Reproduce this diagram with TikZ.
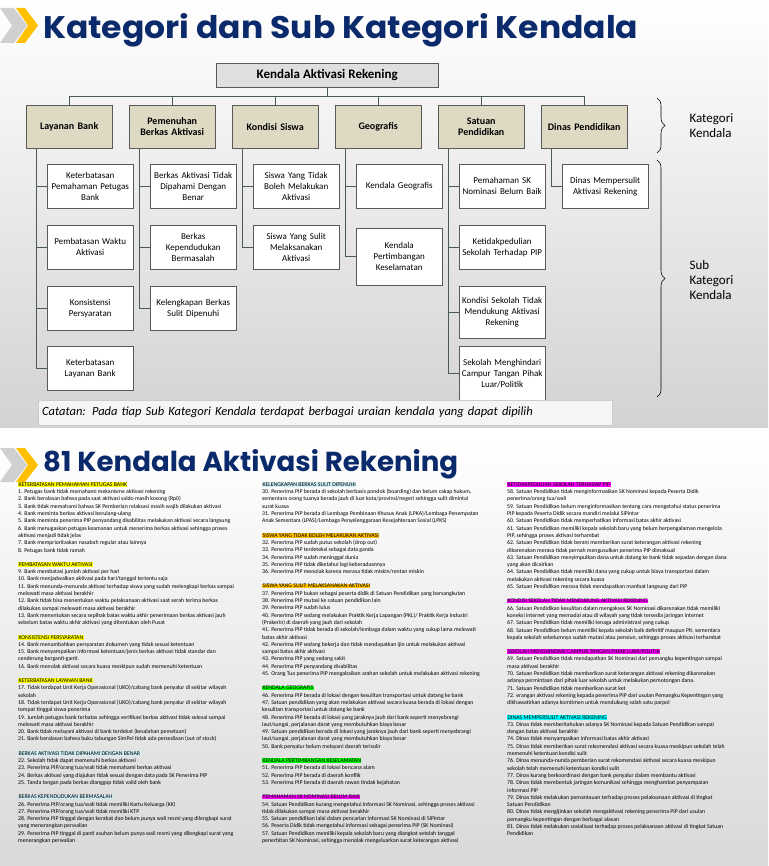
\documentclass[tikz,border=0pt]{standalone}
\usepackage{fontspec}
\setmainfont{Carlito}
\newfontfamily\ttlfont{Poppins}
\usetikzlibrary{decorations.pathreplacing,calc}
\definecolor{navy}{HTML}{0B2A6B}
\definecolor{beige}{HTML}{DDD9C3}
\definecolor{lnc}{HTML}{4A5A5A}
\definecolor{hy}{HTML}{FFFF00}
\definecolor{hc}{HTML}{CDEFF5}
\definecolor{hg}{HTML}{FFC000}
\definecolor{hgr}{HTML}{00FF00}
\definecolor{hm}{HTML}{FF00FF}
\definecolor{hcy}{HTML}{00FFFF}
\definecolor{chy}{HTML}{FFC000}
\definecolor{chg}{HTML}{D0D0D0}
\newcommand{\hl}[2]{\setlength{\fboxsep}{0.4pt}\colorbox{#1}{#2}}
\begin{document}
\begin{tikzpicture}[x=1pt,y=-1pt,
  catbox/.style={draw=gray!70!black,fill=beige,minimum width=86pt,minimum height=43pt,align=center,font=\fontsize{10}{11}\selectfont\bfseries,inner sep=0pt,anchor=north west,text width=86pt},
  subbox/.style={draw=gray!70!black,fill=white,minimum width=86pt,minimum height=44pt,align=center,font=\fontsize{9}{11}\selectfont,inner sep=0pt,anchor=north west,text width=86pt},
  conn/.style={draw=lnc,line width=0.8pt},
  coltext/.style={anchor=north west,align=left,inner sep=0pt,font=\fontsize{5.8}{7.3}\selectfont},
  brc/.style={draw,line width=0.6pt,decorate,decoration={brace,amplitude=8pt}}]
\hyphenpenalty=10000
\useasboundingbox (0,0) rectangle (768,866);
\shade[top color=white,bottom color=gray!35] (0,0) rectangle (768,428);
\fill[white] (0,428) rectangle (768,440);
\shade[top color=white,bottom color=gray!30] (0,440) rectangle (768,866);
% chevrons
\fill[chg] (0,8)--(14,8)--(27,25.5)--(14,43)--(0,43)--(12,25.5)--cycle;
\fill[chy] (16,8)--(25,8)--(38,25.5)--(25,43)--(16,43)--(28,25.5)--cycle;
\fill[chg] (0,448)--(14,448)--(27,465)--(14,482)--(0,482)--(12,465)--cycle;
\fill[chy] (16,448)--(25,448)--(38,465)--(25,482)--(16,482)--(28,465)--cycle;
\node[anchor=base west,inner sep=0pt,text=navy] (t1) at (43,39) {\resizebox{595pt}{25pt}{\ttlfont\bfseries Kategori dan Sub Kategori Kendala}};
\node[anchor=base west,inner sep=0pt,text=navy] (t2) at (43,471) {\resizebox{415pt}{22pt}{\ttlfont\bfseries 81 Kendala Aktivasi Rekening}};
% root
\node[draw=gray!70!black,fill=gray!25,minimum width=222pt,minimum height=24pt,anchor=north west,font=\fontsize{13}{14}\selectfont\bfseries] (root) at (216,63) {Kendala Aktivasi Rekening};
% categories
\node[catbox] (c1) at (26,105) {Layanan Bank};
\node[catbox] (c2) at (129,105) {Pemenuhan\\Berkas Aktivasi};
\node[catbox] (c3) at (232,105) {Kondisi Siswa};
\node[catbox] (c4) at (335,105) {Geografis};
\node[catbox] (c5) at (438,105) {Satuan\\Pendidikan};
\node[catbox] (c6) at (541,105) {Dinas Pendidikan};
\coordinate (bus) at (0,96);
\draw[conn] (root.south) -- (root.south |- bus);
\draw[conn] (c1.north |- bus) -- (c6.north |- bus);
\foreach \c in {c1,c2,c3,c4,c5,c6} \draw[conn] (\c.north |- bus) -- (\c.north);
% subcategories
\node[subbox] (s11) at (47,164) {Keterbatasan\\Pemahaman Petugas\\Bank};
\node[subbox] (s12) at (47,225) {Pembatasan Waktu\\Aktivasi};
\node[subbox] (s13) at (47,286) {Konsistensi\\Persyaratan};
\node[subbox] (s14) at (47,346) {Keterbatasan\\Layanan Bank};
\node[subbox] (s21) at (150,164) {Berkas Aktivasi Tidak\\Dipahami Dengan\\Benar};
\node[subbox] (s22) at (150,225) {Berkas\\Kependudukan\\Bermasalah};
\node[subbox] (s23) at (150,286) {Kelengkapan Berkas\\Sulit Dipenuhi};
\node[subbox] (s31) at (253,164) {Siswa Yang Tidak\\Boleh Melakukan\\Aktivasi};
\node[subbox] (s32) at (253,225) {Siswa Yang Sulit\\Melaksanakan\\Aktivasi};
\node[subbox] (s41) at (356,164) {Kendala Geografis};
\node[subbox,minimum height=57pt] (s42) at (356,228) {Kendala\\Pertimbangan\\Keselamatan};
\node[subbox] (s51) at (459,164) {Pemahaman SK\\Nominasi Belum Baik};
\node[subbox] (s52) at (459,225) {Ketidakpedulian\\Sekolah Terhadap PIP};
\node[subbox,minimum height=52pt] (s53) at (459,286) {Kondisi Sekolah Tidak\\Mendukung Aktivasi\\Rekening};
\node[subbox,minimum height=54pt] (s54) at (459,346) {Sekolah Menghindari\\Campur Tangan Pihak\\Luar/Politik};
\node[subbox] (s61) at (562,164) {Dinas Mempersulit\\Aktivasi Rekening};
\foreach \c/\s in {c1/s11,c1/s12,c1/s13,c1/s14,c2/s21,c2/s22,c2/s23,c3/s31,c3/s32,c4/s41,c4/s42,c5/s51,c5/s52,c5/s53,c5/s54,c6/s61}
  \draw[conn] ([xshift=10pt]\c.south west) |- (\s.west);
% braces
\coordinate (b1a) at (657,98); \coordinate (b1b) at (657,153);
\coordinate (b2a) at (657,160); \coordinate (b2b) at (657,397);
\draw[brc] (b1a) -- (b1b);
\draw[brc] (b2a) -- (b2b);
\node[anchor=west,align=left,font=\fontsize{13}{15}\selectfont] (k1) at (686,126) {Kategori\\Kendala};
\node[anchor=west,align=left,font=\fontsize{13}{15}\selectfont] (k2) at (686,280) {Sub\\Kategori\\Kendala};
% note
\node[draw=gray!40,fill=gray!8,anchor=north west,minimum width=574pt,minimum height=25pt,text width=566pt,align=left,font=\fontsize{12.5}{15}\selectfont\itshape] (note) at (38,400) {Catatan: Pada tiap Sub Kategori Kendala terdapat berbagai uraian kendala yang dapat dipilih};
% column 1
\node[coltext] (col1) at (18,482) {%
\hl{hy}{KETERBATASAN PEMAHAMAN PETUGAS BANK}\\
1. Petugas bank tidak memahami mekanisme aktivasi rekening\\
2. Bank beralasan bahwa pada saat aktivasi saldo masih kosong (Rp0)\\
3. Bank tidak memahami bahwa SK Pemberian relaksasi masih wajib dilakukan aktivasi\\
4. Bank meminta berkas aktivasi berulang-ulang\\
5. Bank meminta penerima PIP penyandang disabilitas melakukan aktivasi secara langsung\\
6. Bank menugaskan petugas keamanan untuk menerima berkas aktivasi sehingga proses\\
aktivasi menjadi tidak jelas\\
7. Bank memprioritaskan nasabah regular atau lainnya\\
8. Petugas bank tidak ramah\\[7pt]
\hl{hy}{PEMBATASAN WAKTU AKTIVASI}\\
9. Bank membatasi jumlah aktivasi per hari\\
10. Bank menjadwalkan aktivasi pada hari/tanggal tertentu saja\\
11. Bank menunda-menunda aktivasi terhadap siswa yang sudah melengkapi berkas sampai\\
melewati masa aktivasi berakhir\\
12. Bank tidak bisa menentukan waktu pelaksanaan aktivasi saat serah terima berkas\\
dilakukan sampai melewati masa aktivasi berakhir\\
13. Bank menentukan secara sepihak batas waktu akhir penerimaan berkas aktivasi jauh\\
sebelum batas waktu akhir aktivasi yang ditentukan oleh Pusat\\[7pt]
\hl{hy}{KONSISTENSI PERSYARATAN}\\
14. Bank menambahkan persyaratan dokumen yang tidak sesuai ketentuan\\
15. Bank menyampaikan informasi ketentuan/jenis berkas aktivasi tidak standar dan\\
cenderung berganti-ganti.\\
16. Bank menolak aktivasi secara kuasa meskipun sudah memenuhi ketentuan\\[7pt]
\hl{hy}{KETERBATASAN LAYANAN BANK}\\
17. Tidak terdapat Unit Kerja Operasional (UKO)/cabang bank penyalur di sekitar wilayah\\
sekolah\\
18. Tidak terdapat Unit Kerja Operasional (UKO)/cabang bank penyalur di sekitar wilayah\\
tempat tinggal siswa penerima\\
19. Jumlah petugas bank terbatas sehingga verifikasi berkas aktivasi tidak selesai sampai\\
melewati masa aktivasi berakhir\\
20. Bank tidak melayani aktivasi di bank terdekat (kesalahan pemetaan)\\
21. Bank beralasan bahwa buku tabungan SimPel tidak ada persediaan (out of stock)\\[7pt]
\hl{hc}{BERKAS AKTIVASI TIDAK DIPAHAMI DENGAN BENAR}\\
22. Sekolah tidak dapat memenuhi berkas aktivasi\\
23. Penerima PIP/orang tua/wali tidak memahami berkas aktivasi\\
24. Berkas aktivasi yang diajukan tidak sesuai dengan data pada SK Penerima PIP\\
25. Tanda tangan pada berkas dianggap tidak valid oleh bank\\[7pt]
\hl{hc}{BERKAS KEPENDUDUKAN BERMASALAH}\\
26. Penerima PIP/orang tua/wali tidak memiliki Kartu Keluarga (KK)\\
27. Penerima PIP/orang tua/wali tidak memiliki KTP\\
28. Penerima PIP tinggal dengan kerabat dan belum punya wali resmi yang dilengkapi surat\\
yang menerangkan perwalian\\
29. Penerima PIP tinggal di panti asuhan belum punya wali resmi yang dilengkapi surat yang\\
menerangkan perwalian};
% column 2
\node[coltext] (col2) at (262,482) {%
\hl{hc}{KELENGKAPAN BERKAS SULIT DIPENUHI}\\
30. Penerima PIP berada di sekolah berbasis pondok (boarding) dan belum cakap hukum,\\
sementara orang tuanya berada jauh di luar kota/provinsi/negeri sehingga sulit dimintai\\
surat kuasa\\
31. Penerima PIP berada di Lembaga Pembinaan Khusus Anak (LPKA)/Lembaga Penempatan\\
Anak Sementara (LPAS)/Lembaga Penyelenggaraan Kesejahteraan Sosial (LPKS)\\[7pt]
\hl{hg}{SISWA YANG TIDAK BOLEH MELAKUKAN AKTIVASI}\\
32. Penerima PIP sudah putus sekolah (drop out)\\
33. Penerima PIP terdeteksi sebagai data ganda\\
34. Penerima PIP sudah meninggal dunia\\
35. Penerima PIP tidak diketahui lagi keberadaannya\\
36. Penerima PIP menolak karena merasa tidak miskin/rentan miskin\\[7pt]
\hl{hg}{SISWA YANG SULIT MELAKSANAKAN AKTIVASI}\\
37. Penerima PIP bukan sebagai peserta didik di Satuan Pendidikan yang bersangkutan\\
38. Penerima PIP mutasi ke satuan pendidikan lain\\
39. Penerima PIP sudah lulus\\
40. Penerima PIP sedang melakukan Praktik Kerja Lapangan (PKL)/ Praktik Kerja Industri\\
(Prakerin) di daerah yang jauh dari sekolah\\
41. Penerima PIP tidak berada di sekolah/lembaga dalam waktu yang cukup lama melewati\\
batas akhir aktivasi\\
42. Penerima PIP sedang bekerja dan tidak mendapatkan ijin untuk melakukan aktivasi\\
sampai batas akhir aktivasi\\
43. Penerima PIP yang sedang sakit\\
44. Penerima PIP penyandang disabilitas\\
45. Orang Tua penerima PIP mengabaikan arahan sekolah untuk melakukan aktivasi rekening\\[7pt]
\hl{hgr}{KENDALA GEOGRAFIS}\\
46. Penerima PIP berada di lokasi dengan kesulitan transportasi untuk datang ke bank\\
47. Satuan pendidikan yang akan melakukan aktivasi secara kuasa berada di lokasi dengan\\
kesulitan transportasi untuk datang ke bank\\
48. Penerima PIP berada di lokasi yang jaraknya jauh dari bank seperti menyebrangi\\
laut/sungai, perjalanan darat yang membutuhkan biaya besar\\
49. Satuan pendidikan berada di lokasi yang jaraknya jauh dari bank seperti menyebrangi\\
laut/sungai, perjalanan darat yang membutuhkan biaya besar\\
50. Bank penyalur belum melayani daerah terisolir\\[7pt]
\hl{hgr}{KENDALA PERTIMBANGAN KESELAMATAN}\\
51. Penerima PIP berada di lokasi bencana alam\\
52. Penerima PIP berada di daerah konflik\\
53. Penerima PIP berada di daerah rawan tindak kejahatan\\[7pt]
\hl{hm}{PEMAHAMAN SK NOMINASI BELUM BAIK}\\
54. Satuan Pendidikan kurang mengetahui informasi SK Nominasi, sehingga proses aktivasi\\
tidak dilakukan sampai masa aktivasi berakhir\\
55. Satuan pendidikan lalai dalam pencarian informasi SK Nominasi di SiPintar\\
56. Peserta Didik tidak mengetahui informasi sebagai penerima PIP (SK Nominasi)\\
57. Satuan Pendidikan memiliki kepala sekolah baru yang diangkat setelah tanggal\\
penerbitan SK Nominasi, sehingga menolak mengeluarkan surat keterangan aktivasi};
% column 3
\node[coltext] (col3) at (507,482) {%
\hl{hm}{KETIDAKPEDULIAN SEKOLAH TERHADAP PIP}\\
58. Satuan Pendidikan tidak menginformasikan SK Nominasi kepada Peserta Didik\\
penerima/orang tua/wali\\
59. Satuan Pendidikan belum menginformasikan tentang cara mengetahui status penerima\\
PIP kepada Peserta Didik secara mandiri melalui SiPintar\\
60. Satuan Pendidikan tidak memperhatikan informasi batas akhir aktivasi\\
61. Satuan Pendidikan memiliki kepala sekolah baru yang belum berpengalaman mengelola\\
PIP, sehingga proses aktivasi terhambat\\
62. Satuan Pendidikan tidak berani memberikan surat keterangan aktivasi rekening\\
dikarenakan merasa tidak pernah mengusulkan penerima PIP dimaksud\\
63. Satuan Pendidikan menyimpulkan dana untuk datang ke bank tidak sepadan dengan dana\\
yang akan dicairkan\\
64. Satuan Pendidikan tidak memiliki dana yang cukup untuk biaya transportasi dalam\\
melakukan aktivasi rekening secara kuasa\\
65. Satuan Pendidikan merasa tidak mendapatkan manfaat langsung dari PIP\\[7pt]
\hl{hm}{KONDISI SEKOLAH TIDAK MENDUKUNG AKTIVASI REKENING}\\
66. Satuan Pendidikan kesulitan dalam mengakses SK Nominasi dikarenakan tidak memiliki\\
koneksi internet yang memadai atau di wilayah yang tidak tersedia jaringan internet\\
67. Satuan Pendidikan tidak memiliki tenaga administrasi yang cukup\\
68. Satuan Pendidikan belum memiliki kepala sekolah baik definitif maupun Plt, sementara\\
kepala sekolah sebelumnya sudah mutasi atau pensiun, sehingga proses aktivasi terhambat\\[7pt]
\hl{hm}{SEKOLAH MENGHINDARI CAMPUR TANGAN PIHAK LUAR/POLITIK}\\
69. Satuan Pendidikan tidak mendapatkan SK Nominasi dari pemangku kepentingan sampai\\
masa aktivasi berakhir\\
70. Satuan Pendidikan tidak memberikan surat keterangan aktivasi rekening dikarenakan\\
adanya permintaan dari pihak luar sekolah untuk melakukan pemotongan dana.\\
71. Satuan Pendidikan tidak memberikan surat ket\\
72. erangan aktivasi rekening kepada penerima PIP dari usulan Pemangku Kepentingan yang\\
dikhawatirkan adanya komitmen untuk mendukung salah satu parpol\\[7pt]
\hl{hcy}{DINAS MEMPERSULIT AKTIVASI REKENING}\\
73. Dinas tidak memberitahukan adanya SK Nominasi kepada Satuan Pendidikan sampai\\
dengan batas aktivasi berakhir\\
74. Dinas tidak menyampaikan informasi batas akhir aktivasi\\
75. Dinas tidak memberikan surat rekomendasi aktivasi secara kuasa meskipun sekolah telah\\
memenuhi ketentuan kondisi sulit\\
76. Dinas menunda-nunda pemberian surat rekomendasi aktivasi secara kuasa meskipun\\
sekolah telah memenuhi ketentuan kondisi sulit\\
77. Dinas kurang berkoordinasi dengan bank penyalur dalam membantu aktivasi\\
78. Dinas tidak membentuk jaringan komunikasi sehingga menghambat penyampaian\\
informasi PIP\\
79. Dinas tidak melakukan pemantauan terhadap proses pelaksanaan aktivasi di tingkat\\
Satuan Pendidikan\\
80. Dinas tidak mengijinkan sekolah mengaktivasi rekening penerima PIP dari usulan\\
pemangku kepentingan dengan berbagai alasan\\
81. Dinas tidak melakukan sosialisasi terhadap proses pelaksanaan aktivasi di tingkat Satuan\\
Pendidikan};
\end{tikzpicture}
\end{document}
